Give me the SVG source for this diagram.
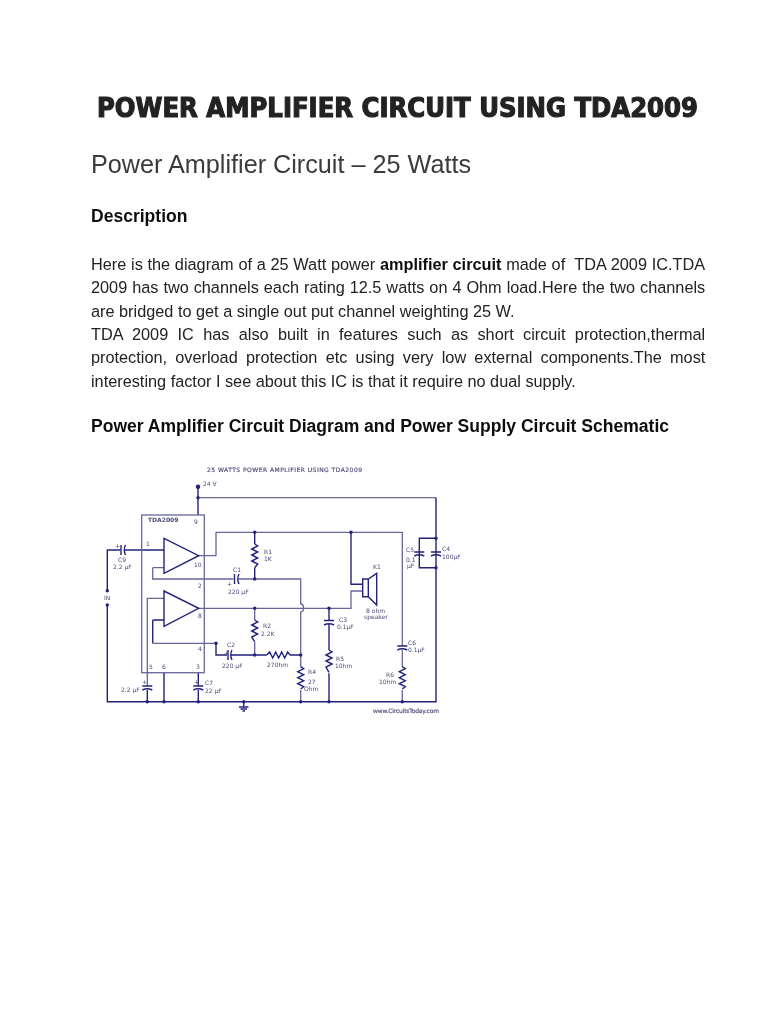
<svg xmlns="http://www.w3.org/2000/svg" width="768" height="1024" viewBox="0 0 768 1024">
<defs>
<filter id="soft" x="-5%" y="-5%" width="110%" height="110%"><feGaussianBlur stdDeviation="0.42"/></filter>
<filter id="softer" x="-2%" y="-20%" width="104%" height="140%"><feGaussianBlur stdDeviation="0.25"/></filter>
<circle id="dot" r="1.7" fill="#20207a"/>
</defs>
<style>
text{white-space:pre}
.t{font-family:"Liberation Sans",Arial,sans-serif;fill:#222}
.b{font-size:16.3px}
.h{font-size:17.55px;font-weight:bold;fill:#111}
.g{fill:none;stroke:#66669a;stroke-width:1.3}
.c{fill:none;stroke:#23237c;stroke-width:1.4}
.l{font-family:"DejaVu Sans",sans-serif;font-size:6px;fill:#4a4a78}
</style>
<rect width="768" height="1024" fill="#fff"/>
<g id="page-text" filter="url(#softer)">
<text x="97" y="117.300" font-family="DejaVu Sans" font-stretch="condensed" font-size="26.500" font-weight="bold" fill="#222" stroke="#222" stroke-width="1.1" textLength="601" lengthAdjust="spacingAndGlyphs">POWER AMPLIFIER CIRCUIT USING TDA2009</text>
<text x="91" y="173.300" font-family="Liberation Sans" font-size="26" fill="#3a3a3a" textLength="380" lengthAdjust="spacingAndGlyphs">Power Amplifier Circuit – 25 Watts</text>
<text class="t h" x="91" y="221.700">Description</text>
<text class="t b" x="91" y="270" word-spacing="0.200">Here is the diagram of a 25 Watt power <tspan font-weight="bold" fill="#111">amplifier circuit</tspan> made of  TDA 2009 IC.TDA</text>
<text class="t b" x="91" y="293.300" word-spacing="0.430">2009 has two channels each rating 12.5 watts on 4 Ohm load.Here the two channels</text>
<text class="t b" x="91" y="316.700">are bridged to get a single out put channel weighting 25 W.</text>
<text class="t b" x="91" y="340" word-spacing="4.800">TDA 2009 IC has also built in features such as short circuit protection,thermal</text>
<text class="t b" x="91" y="363.300" word-spacing="3.700">protection, overload protection etc using very low external components.The most</text>
<text class="t b" x="91" y="386.700">interesting factor I see about this IC is that it require no dual supply.</text>
<text class="t h" x="91" y="431.700">Power Amplifier Circuit Diagram and Power Supply Circuit Schematic</text>
</g>
<g id="schematic" filter="url(#soft)">
<g id="connectors">
<path class="g" d="M198 497.700H436"/>
<path class="c" d="M198 487V515"/>
<path class="c" d="M436 497.700V701.700H107.300V605"/>
<path class="g" d="M198.700 555.700H216V532.300H402.300V646"/>
<path class="g" d="M402.300 650V666.700M402.300 690V701.700"/>
<path class="c" d="M254.700 532.300V544M254.700 567.700V579"/>
<path class="g" d="M152.700 567.700H164M152.700 567.700V579H233.500M238 579H300.700V604C304.500 604 304.500 612 300.700 612V666.700M300.700 690V701.700"/>
<path class="c" d="M107.300 590.700V550H120.500M124.500 550H164"/>
<path class="g" d="M198.700 608.300H351V591H362.700"/>
<path class="c" d="M351 532.300V584.300H362.700"/>
<path class="g" d="M254.700 608.300V620M254.700 641.700V655"/>
<path class="g" d="M164 598.300H147.300V686"/>
<path class="c" d="M147.300 690V701.700M164 672.700V701.700M198.300 672.700V686M198.300 690V701.700"/>
<path class="c" d="M152.700 620H164M152.700 620V643.300"/>
<path class="g" d="M152.700 643.300H216"/>
<path class="c" d="M216 643.300V655H227M231 655H266.700M290 655H300.700"/>
<path class="c" d="M329 608.300V620.500M329 624V650M329 673.300V701.700"/>
<path class="c" d="M243.700 701.700V707"/>
<path class="c" d="M436 538.300H419.300V567.700H436M419.300 538.300V552M419.300 555V567.700"/>
</g>
<g id="junctions">
<circle cx="198" cy="486.700" r="2.200" fill="#20207a"/>
<use href="#dot" x="198" y="497.700"/><use href="#dot" x="254.700" y="532.300"/><use href="#dot" x="351" y="532.300"/>
<use href="#dot" x="254.700" y="579"/><use href="#dot" x="436" y="538.300"/><use href="#dot" x="436" y="567.700"/>
<use href="#dot" x="107.300" y="590.700"/><use href="#dot" x="107.300" y="605"/><use href="#dot" x="254.700" y="608.300"/>
<use href="#dot" x="329" y="608.300"/><use href="#dot" x="216" y="643.300"/><use href="#dot" x="254.700" y="655"/>
<use href="#dot" x="300.700" y="655"/><use href="#dot" x="147.300" y="701.700"/><use href="#dot" x="164" y="701.700"/>
<use href="#dot" x="198.300" y="701.700"/><use href="#dot" x="243.700" y="701.700"/><use href="#dot" x="300.700" y="701.700"/>
<use href="#dot" x="329" y="701.700"/><use href="#dot" x="402.300" y="701.700"/>
</g>
<g id="ic">
<rect class="g" x="141.700" y="515" width="62.600" height="157.700"/>
<path class="c" d="M164 538.300V573.300L198.700 555.700Z"/>
<path class="c" d="M164 591V626.300L198.700 608.300Z"/>
<text class="l" x="148" y="522" font-weight="bold">TDA2009</text>
<text class="l" x="194" y="524">9</text><text class="l" x="146" y="546">1</text>
<text class="l" x="194" y="567">10</text><text class="l" x="198" y="588">2</text>
<text class="l" x="198" y="618">8</text><text class="l" x="198" y="651">4</text>
<text class="l" x="149" y="669">5</text><text class="l" x="162" y="669">6</text><text class="l" x="196" y="669">3</text>
</g>
<g id="speaker">
<path class="c" d="M362.700 579H368.300V596.700H362.700ZM368.300 579L376.700 573.300V605L368.300 596.700"/>
<text class="l" x="373" y="569">K1</text>
<text class="l" x="366" y="613">8 ohm</text><text class="l" x="364" y="619">speaker</text>
</g>
<g id="resistors">
<path class="c" d="M254.700 544l3 2 -6 3 6 3 -6 3 6 3 -6 3 6 3 -3 3.700"/>
<path class="c" d="M254.700 620l3 2 -6 3 6 3 -6 3 6 3 -6 3 3 4.700"/>
<path class="c" d="M266.700 655l3 -3 3 6 3 -6 3 6 3 -6 3 6 3 -6 2.300 3"/>
<path class="c" d="M300.700 666.700l3 2 -6 3 6 3 -6 3 6 3 -6 3 6 3 -3 2.300"/>
<path class="c" d="M329 650l3 2 -6 3 6 3 -6 3 6 3 -6 3 3 5.300"/>
<path class="c" d="M402.300 666.700l3 2 -6 3 6 3 -6 3 6 3 -6 3 6 3 -3 2.300"/>
</g>
<g id="capacitors">
<path class="c" d="M121 545V555M125.500 545Q123 550 125.500 555"/>
<path class="c" d="M234.500 574V584M239 574Q236.500 579 239 584"/>
<path class="c" d="M228 650V660M232 650Q229.500 655 232 660"/>
<path class="c" d="M142.300 686H152.300M142.300 690Q147.300 687.500 152.300 690"/>
<path class="c" d="M193.300 686H203.300M193.300 690Q198.300 687.500 203.300 690"/>
<path class="c" d="M324 620.500H334M324 625Q329 622.500 334 625"/>
<path class="c" d="M397.300 646H407.300M397.300 650Q402.300 647.500 407.300 650"/>
<path class="c" d="M414.300 552H424.300M414.300 556Q419.300 553.500 424.300 556"/>
<path class="c" d="M431 552H441M431 556Q436 553.500 441 556"/>
</g>
<g id="ground">
<path class="c" d="M239 707H248.500M240.500 709H247M242.500 711H245"/>
</g>
<g id="labels">
<text class="l" x="207" y="472" textLength="155" stroke="#4a4a78" stroke-width="0.15">25 WATTS POWER AMPLIFIER USING TDA2009</text>
<text class="l" x="203" y="486">24 V</text>
<text class="l" x="118" y="562">C9</text><text class="l" x="113" y="569">2.2 µF</text>
<text class="l" x="104" y="600">IN</text>
<text class="l" x="264" y="554">R1</text><text class="l" x="264" y="561">1K</text>
<text class="l" x="233" y="572">C1</text><text class="l" x="228" y="593.500">220 µF</text>
<text class="l" x="263" y="628">R2</text><text class="l" x="261" y="636">2.2K</text>
<text class="l" x="227" y="647">C2</text><text class="l" x="222" y="668">220 µF</text>
<text class="l" x="267" y="667">270hm</text>
<text class="l" x="308" y="674">R4</text><text class="l" x="308" y="684">27</text><text class="l" x="304" y="691">Ohm</text>
<text class="l" x="339" y="622">C3</text><text class="l" x="337" y="629">0.1µF</text>
<text class="l" x="336" y="661">R5</text><text class="l" x="335" y="668">10hm</text>
<text class="l" x="408" y="645">C6</text><text class="l" x="408" y="652">0.1µF</text>
<text class="l" x="386" y="677">R6</text><text class="l" x="379" y="684">10hm</text>
<text class="l" x="406" y="552">C5</text><text class="l" x="406" y="562">0.1</text><text class="l" x="407" y="568">µF</text>
<text class="l" x="442" y="551">C4</text><text class="l" x="442" y="559">100µF</text>
<text class="l" x="121" y="692">2.2 µF</text>
<text class="l" x="205" y="685">C7</text><text class="l" x="205" y="693">22 µF</text>
<text class="l" x="373" y="713" textLength="66" stroke="#4a4a78" stroke-width="0.15">www.CircuitsToday.com</text>
<text class="l" x="115" y="548">+</text><text class="l" x="227" y="586">+</text><text class="l" x="224" y="655">+</text>
<text class="l" x="142" y="684">+</text><text class="l" x="194" y="684">+</text>
</g>
</g>
</svg>
